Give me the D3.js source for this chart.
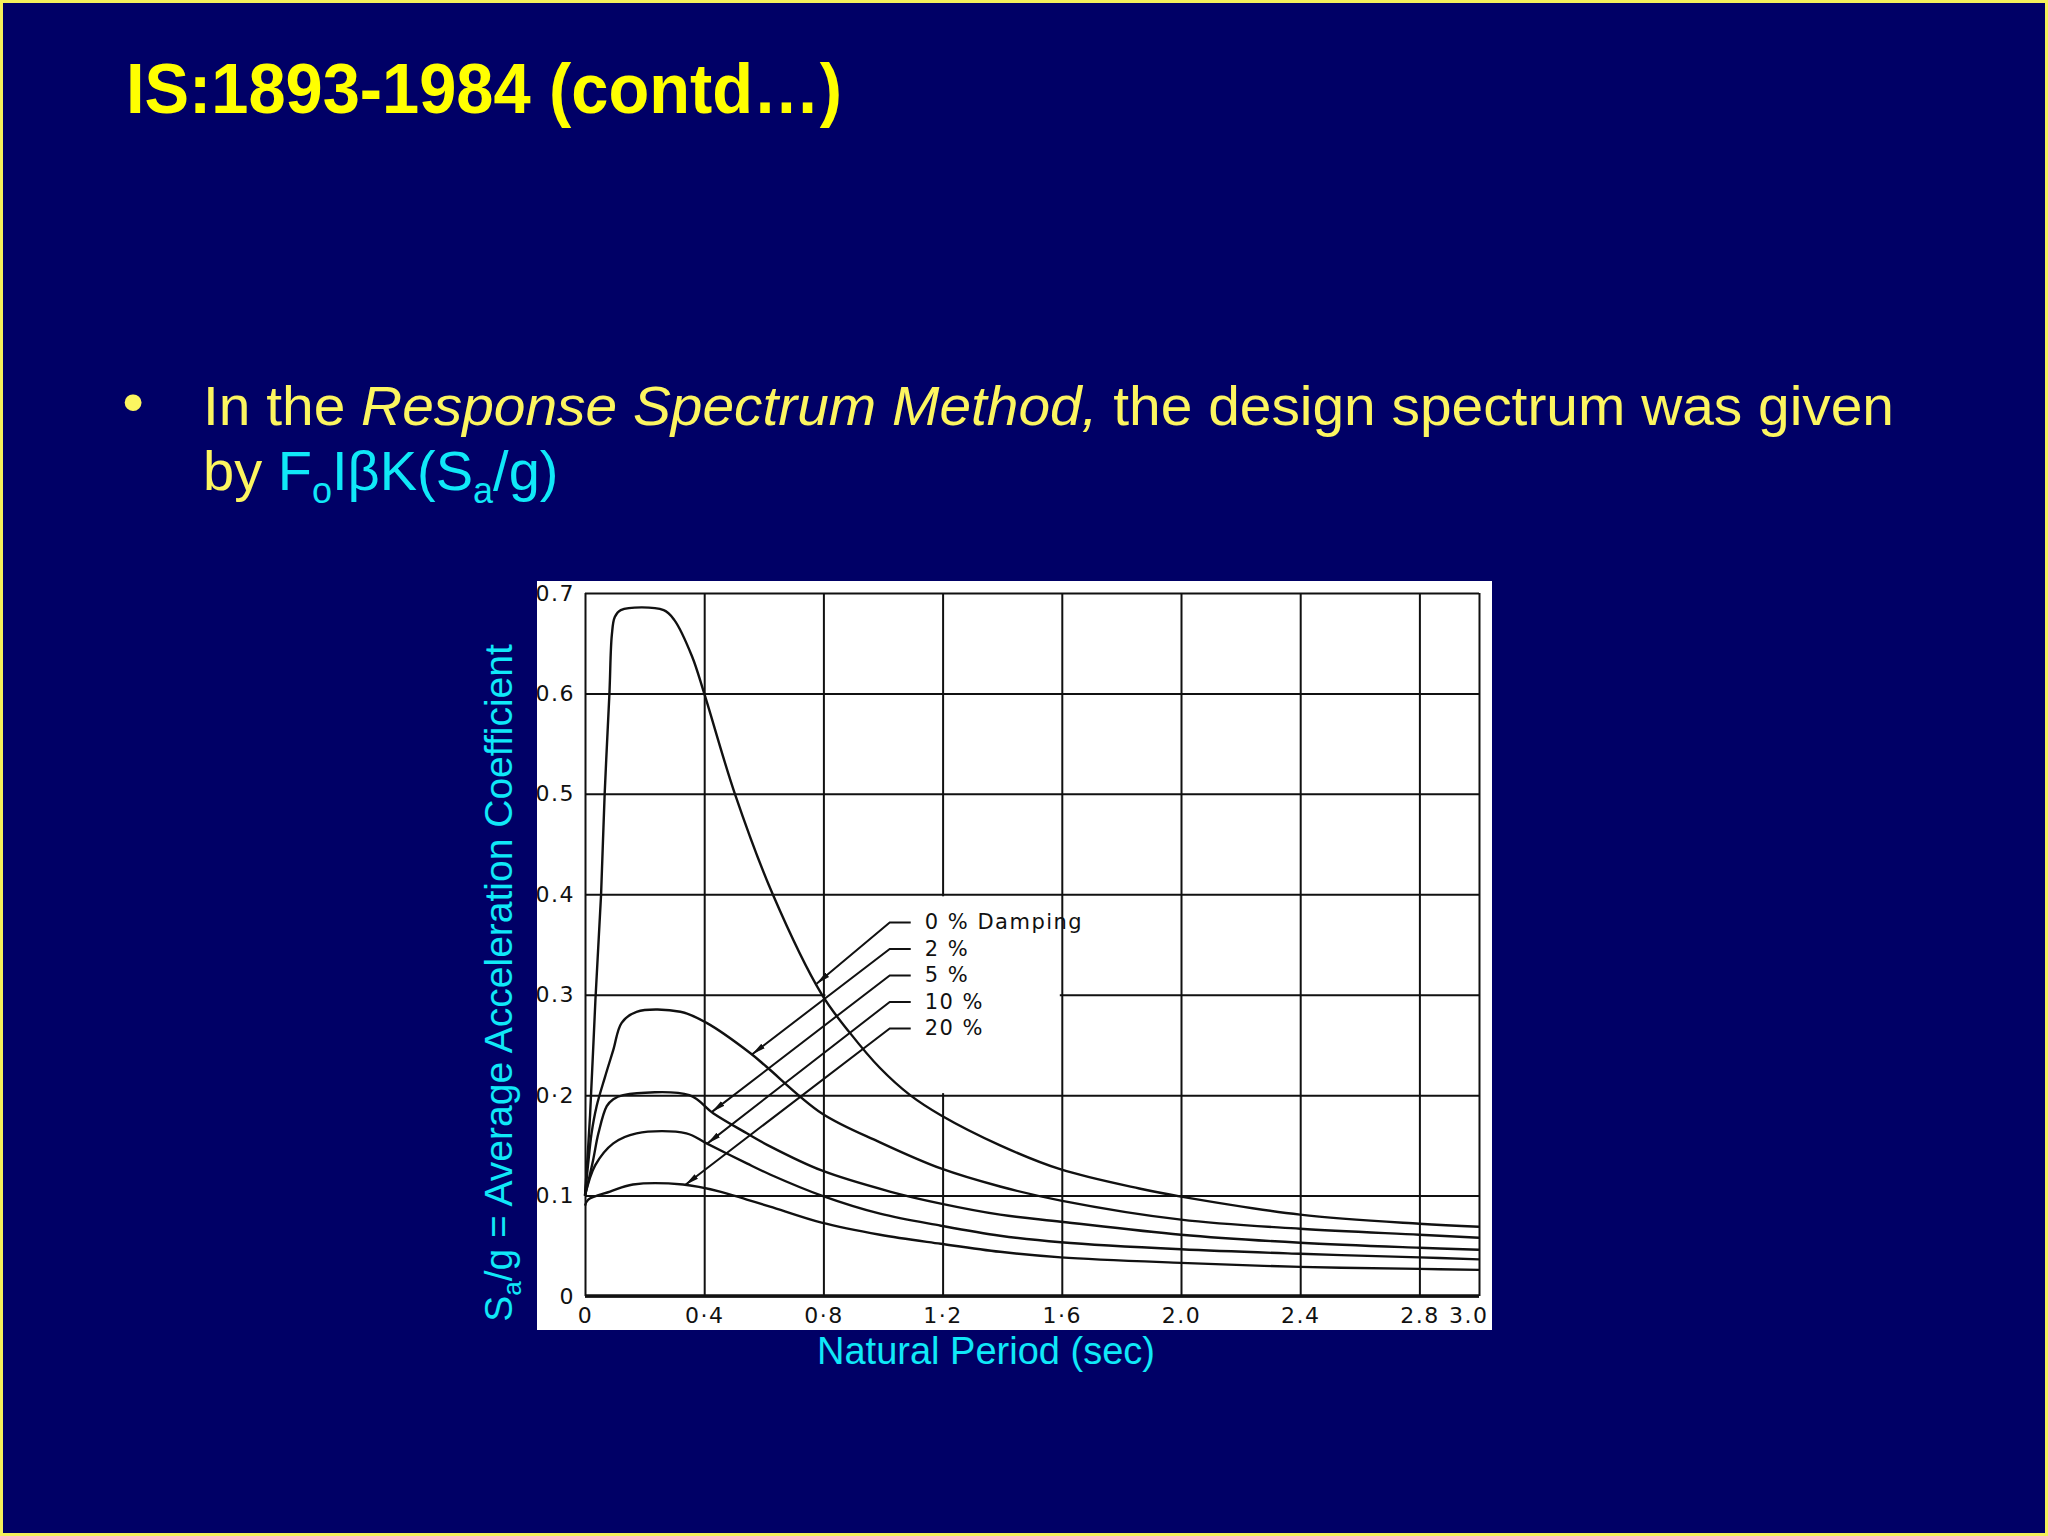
<!DOCTYPE html>
<html>
<head>
<meta charset="utf-8">
<script src="https://cdn.jsdelivr.net/npm/d3@7"></script>
<style>
  body { margin: 0; background: #000066; }
  svg { display: block; }
  text { white-space: pre; }
</style>
</head>
<body>
<div id="slide"></div>
<script>
// tick values and their printed labels (the scan mixes "·" and "." decimals)
const periodTicks = [0, 0.4, 0.8, 1.2, 1.6, 2.0, 2.4, 2.8, 3.0];
const periodTickLabels = ["0", "0·4", "0·8", "1·2", "1·6", "2.0", "2.4", "2.8", "3.0"];
const coeffTicks = [0, 0.1, 0.2, 0.3, 0.4, 0.5, 0.6, 0.7];
const coeffTickLabels = ["0", "0.1", "0·2", "0.3", "0.4", "0.5", "0.6", "0.7"];

const dampingLabels = ["0 % Damping", "2 %", "5 %", "10 %", "20 %"];

// [T (sec), Sa/g]
const damping0 = [[0, 0.1], [0.017, 0.18], [0.035, 0.295], [0.054, 0.4], [0.066, 0.5], [0.082, 0.6],
  [0.09, 0.658], [0.1, 0.676], [0.12, 0.683], [0.264, 0.683], [0.3, 0.673], [0.359, 0.637], [0.4, 0.6],
  [0.503, 0.5], [0.63, 0.4], [0.795, 0.3], [0.889, 0.262], [0.99, 0.227],
  [1.091, 0.2], [1.194, 0.18], [1.393, 0.15], [1.597, 0.126], [1.86, 0.107], [2.0, 0.099],
  [2.4, 0.081], [2.8, 0.072], [3.0, 0.069]];
const damping2 = [[0, 0.1], [0.01, 0.13], [0.022, 0.162], [0.039, 0.189], [0.067, 0.218], [0.095, 0.245],
  [0.123, 0.272], [0.173, 0.283], [0.32, 0.283], [0.408, 0.272], [0.554, 0.242], [0.61, 0.228],
  [0.794, 0.182], [0.99, 0.153], [1.194, 0.127], [1.393, 0.109], [1.597, 0.095], [2.0, 0.076],
  [2.4, 0.067], [2.8, 0.061], [3.0, 0.058]];
const damping5 = [[0, 0.1], [0.027, 0.135], [0.045, 0.162], [0.073, 0.189], [0.095, 0.196], [0.128, 0.2],
  [0.35, 0.2], [0.43, 0.182], [0.543, 0.162], [0.621, 0.149], [0.794, 0.125], [1.023, 0.104],
  [1.194, 0.092], [1.393, 0.081], [1.597, 0.074], [2.0, 0.061], [2.4, 0.053], [2.8, 0.048], [3.0, 0.046]];
const damping10 = [[0, 0.1], [0.034, 0.13], [0.095, 0.152], [0.173, 0.162], [0.34, 0.162], [0.408, 0.152],
  [0.543, 0.132], [0.621, 0.121], [0.794, 0.1], [0.99, 0.082], [1.194, 0.07], [1.393, 0.06],
  [1.597, 0.0535], [2.0, 0.0465], [2.4, 0.042], [2.8, 0.0385], [3.0, 0.0365]];
const damping20 = [[0, 0.09], [0.011, 0.096], [0.084, 0.104], [0.161, 0.111], [0.329, 0.111], [0.453, 0.104],
  [0.543, 0.096], [0.621, 0.089], [0.794, 0.073], [0.99, 0.061], [1.194, 0.052], [1.393, 0.044],
  [1.597, 0.0385], [2.0, 0.033], [2.4, 0.029], [2.8, 0.027], [3.0, 0.026]];

// period at which each leader arrow touches its curve
const arrowPeriods = [0.777, 0.56, 0.425, 0.41, 0.336];

const series = [damping0, damping2, damping5, damping10, damping20];

const W = 2048, H = 1536;
const box = { x0: 537, y0: 581, x1: 1492, y1: 1330 };
const plot = { left: 585, right: 1479, top: 593, bottom: 1296 };
const ink = "#111111";
const cyan = "#10e8f8";
const paleYellow = "#fcf560";
const chartFont = "'DejaVu Sans', sans-serif";
const slideFont = "'Liberation Sans', Arial, sans-serif";

const svg = d3.select("#slide").append("svg").attr("width", W).attr("height", H);

svg.append("rect")
  .attr("x", 1.5).attr("y", 1.5).attr("width", W - 3).attr("height", H - 3)
  .attr("fill", "#000066").attr("stroke", "#f4f05a").attr("stroke-width", 3);

// title + bullet
svg.append("text")
  .attr("x", 126).attr("y", 113)
  .attr("font-family", slideFont).attr("font-weight", "bold").attr("font-size", 70)
  .attr("fill", "#ffff00")
  .attr("textLength", 716).attr("lengthAdjust", "spacingAndGlyphs")
  .text("IS:1893-1984 (contd…)");

svg.append("text")
  .attr("x", 133).attr("y", 423).attr("text-anchor", "middle")
  .attr("font-family", slideFont).attr("font-size", 62).attr("fill", paleYellow)
  .text("•");

const line1 = svg.append("text")
  .attr("x", 203).attr("y", 425)
  .attr("font-family", slideFont).attr("font-size", 56).attr("fill", paleYellow)
  .attr("textLength", 1691).attr("lengthAdjust", "spacingAndGlyphs");
line1.append("tspan").text("In the ");
line1.append("tspan").attr("font-style", "italic").text("Response Spectrum Method,");
line1.append("tspan").text(" the design spectrum was given");

const line2 = svg.append("text")
  .attr("x", 203).attr("y", 490)
  .attr("font-family", slideFont).attr("font-size", 56).attr("fill", paleYellow);
line2.append("tspan").text("by ");
line2.append("tspan").attr("fill", cyan).text("F");
line2.append("tspan").attr("fill", cyan).attr("font-size", 36).attr("dy", 13).text("o");
line2.append("tspan").attr("fill", cyan).attr("dy", -13).text("IβK(S");
line2.append("tspan").attr("fill", cyan).attr("font-size", 36).attr("dy", 13).text("a");
line2.append("tspan").attr("fill", cyan).attr("dy", -13).text("/g)");

// scanned chart
const defs = svg.append("defs");
defs.append("clipPath").attr("id", "boxClip")
  .append("rect")
  .attr("x", box.x0).attr("y", box.y0)
  .attr("width", box.x1 - box.x0).attr("height", box.y1 - box.y0);

defs.append("marker")
  .attr("id", "arrow")
  .attr("viewBox", "0 -4 14 8")
  .attr("refX", 14).attr("refY", 0)
  .attr("markerWidth", 14).attr("markerHeight", 8)
  .attr("markerUnits", "userSpaceOnUse")
  .attr("orient", "auto")
  .append("path").attr("d", "M0,-2.8L14,0L0,2.8Z").attr("fill", ink);

const chart = svg.append("g").attr("clip-path", "url(#boxClip)");

chart.append("rect")
  .attr("x", box.x0).attr("y", box.y0)
  .attr("width", box.x1 - box.x0).attr("height", box.y1 - box.y0)
  .attr("fill", "#ffffff");

const x = d3.scaleLinear().domain([0, 3]).range([plot.left, plot.right]);
const y = d3.scaleLinear().domain([0, 0.7]).range([plot.bottom, plot.top]);

// grid
const grid = chart.append("g");
grid.append("g")
  .attr("transform", "translate(0," + plot.bottom + ")")
  .call(d3.axisBottom(x).tickValues(periodTicks).tickSize(-(plot.bottom - plot.top)).tickFormat(""))
  .call((g) => g.select(".domain").remove());
grid.append("g")
  .attr("transform", "translate(" + plot.left + ",0)")
  .call(d3.axisLeft(y).tickValues(coeffTicks).tickSize(-(plot.right - plot.left)).tickFormat(""))
  .call((g) => g.select(".domain").remove());
grid.selectAll("line").attr("stroke", ink).attr("stroke-width", 2);

// the legend sits in a gap of the grid
chart.append("rect")
  .attr("x", x(0.8) + 2).attr("y", y(0.4) + 2)
  .attr("width", x(1.6) - x(0.8) - 4).attr("height", y(0.2) - y(0.4) - 4)
  .attr("fill", "#ffffff");

chart.append("line")
  .attr("x1", x(0)).attr("x2", x(3)).attr("y1", y(0)).attr("y2", y(0))
  .attr("stroke", ink).attr("stroke-width", 3.5);

// tick labels
const xAxis = chart.append("g")
  .attr("transform", "translate(0," + plot.bottom + ")")
  .call(d3.axisBottom(x).tickValues(periodTicks).tickSize(0).tickPadding(11)
    .tickFormat((d, i) => periodTickLabels[i]))
  .call((g) => g.select(".domain").remove());
xAxis.selectAll(".tick:last-of-type text").attr("text-anchor", "end").attr("x", 9);

chart.append("g")
  .attr("transform", "translate(" + plot.left + ",0)")
  .call(d3.axisLeft(y).tickValues(coeffTicks).tickSize(0).tickPadding(10)
    .tickFormat((d, i) => coeffTickLabels[i]))
  .call((g) => g.select(".domain").remove());

chart.selectAll(".tick text")
  .attr("font-family", chartFont).attr("font-size", 22)
  .attr("letter-spacing", 1.5).attr("fill", ink);

// spectra
const curve = d3.line()
  .x((d) => x(d[0]))
  .y((d) => y(d[1]))
  .curve(d3.curveCatmullRom.alpha(0.5));

chart.append("g")
  .selectAll("path")
  .data(series)
  .enter()
  .append("path")
  .attr("d", curve)
  .attr("fill", "none")
  .attr("stroke", ink)
  .attr("stroke-width", 2.4)
  .attr("stroke-linejoin", "round");

// legend labels with leader arrows
function valueAt(data, t) {
  const i = d3.bisector((d) => d[0]).left(data, t);
  if (i <= 0) return data[0][1];
  const a = data[i - 1], b = data[i];
  return a[1] + ((b[1] - a[1]) * (t - a[0])) / (b[0] - a[0]);
}

const legendX = x(1.14);
const legendY = y(0.365);
const legendStep = 26.5;

const legend = chart.append("g")
  .selectAll("g")
  .data(dampingLabels)
  .enter()
  .append("g");

legend.append("path")
  .attr("d", function (d, i) {
    const yy = legendY + i * legendStep - 7;
    const t = arrowPeriods[i];
    return "M" + (legendX - 14) + "," + yy +
      "H" + (legendX - 35) +
      "L" + x(t) + "," + y(valueAt(series[i], t));
  })
  .attr("fill", "none")
  .attr("stroke", ink)
  .attr("stroke-width", 2)
  .attr("marker-end", "url(#arrow)");

legend.append("text")
  .attr("x", legendX)
  .attr("y", (d, i) => legendY + i * legendStep)
  .attr("font-family", chartFont).attr("font-size", 21)
  .attr("letter-spacing", 1.5).attr("fill", ink)
  .text((d) => d);

// axis titles on the slide
const yTitle = svg.append("text")
  .attr("transform", "translate(512,983) rotate(-90)")
  .attr("text-anchor", "middle")
  .attr("font-family", slideFont).attr("font-size", 39).attr("fill", cyan);
yTitle.append("tspan").text("S");
yTitle.append("tspan").attr("font-size", 26).attr("dy", 9).text("a");
yTitle.append("tspan").attr("dy", -9).text("/g = Average Acceleration Coefficient");

svg.append("text")
  .attr("x", 986).attr("y", 1364)
  .attr("text-anchor", "middle")
  .attr("font-family", slideFont).attr("font-size", 38).attr("fill", cyan)
  .text("Natural Period (sec)");
</script>
</body>
</html>
